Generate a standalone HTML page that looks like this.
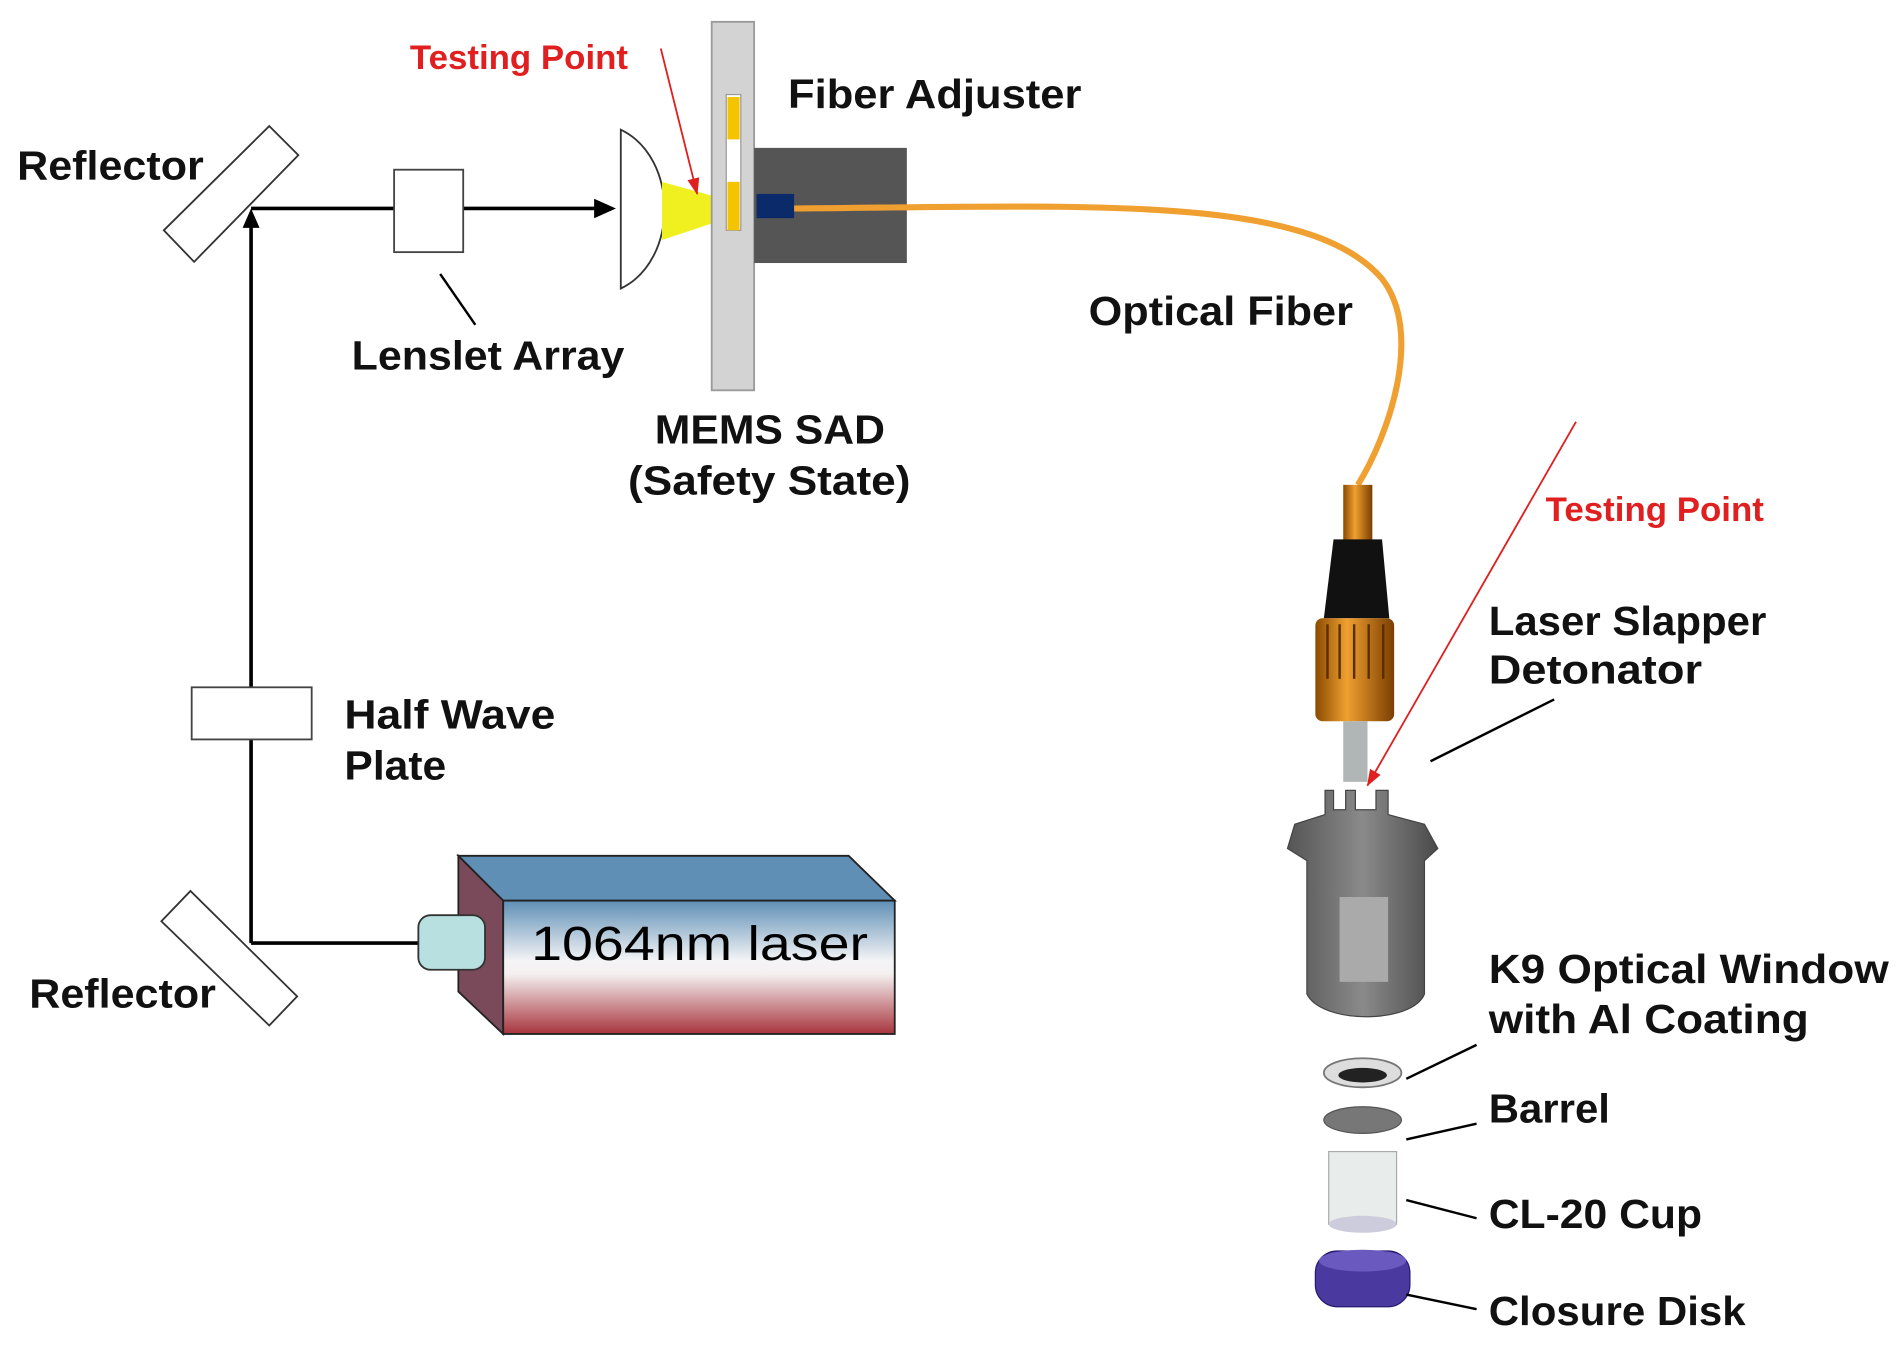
<!DOCTYPE html>
<html><head><meta charset="utf-8"><style>html,body{margin:0;padding:0;background:#fff}svg{display:block}text{font-family:"Liberation Sans",sans-serif;font-weight:bold}</style></head>
<body>
<svg width="1901" height="1354" viewBox="0 0 1568 1117" xmlns="http://www.w3.org/2000/svg">
<defs>
<linearGradient id="lg" x1="0" y1="0" x2="0" y2="1"><stop offset="0" stop-color="#5f8fb5"/><stop offset="0.45" stop-color="#f4f4f6"/><stop offset="0.55" stop-color="#f4f0f0"/><stop offset="1" stop-color="#a8343c"/></linearGradient>
<linearGradient id="gold" x1="0" y1="0" x2="1" y2="0"><stop offset="0" stop-color="#8a4a00"/><stop offset="0.4" stop-color="#f0a030"/><stop offset="1" stop-color="#7a3e00"/></linearGradient>
<linearGradient id="gray" x1="0" y1="0" x2="1" y2="0"><stop offset="0" stop-color="#555"/><stop offset="0.5" stop-color="#8a8a8a"/><stop offset="1" stop-color="#4a4a4a"/></linearGradient>
<marker id="ahr" markerWidth="14" markerHeight="14" refX="13" refY="7" orient="auto" markerUnits="userSpaceOnUse"><path d="M0,2 L14,7 L0,12z" fill="#e02020"/></marker>
</defs>
<polygon points="135,190 222,104 246,128 160,216" fill="#fff" stroke="#333" stroke-width="1.5"/>
<polygon points="133,760 157,735 245,822 222,846" fill="#fff" stroke="#333" stroke-width="1.5"/>
<line x1="207" y1="778" x2="207" y2="182" stroke="#000" stroke-width="3"/>
<path d="M200,188 L207,172 L214,188z"/>
<line x1="207" y1="172" x2="495" y2="172" stroke="#000" stroke-width="3"/>
<path d="M490,164 L508,172 L490,180z"/>
<line x1="207" y1="778" x2="348" y2="778" stroke="#000" stroke-width="3"/>
<rect x="325" y="140" width="57" height="68" fill="#fff" stroke="#444" stroke-width="1.5"/>
<line x1="363" y1="226" x2="392" y2="268" stroke="#000" stroke-width="2"/>
<path d="M512,107 C560,130 560,215 512,238 Z" fill="#fff" stroke="#333" stroke-width="1.5"/>
<polygon points="546,150 600,165 600,180 546,198" fill="#f0f020"/>
<rect x="587" y="18" width="35" height="304" fill="#d3d3d3" stroke="#999" stroke-width="1.5"/>
<rect x="599" y="78" width="12" height="112" fill="#fff" stroke="#999"/>
<rect x="600" y="80" width="10" height="35" fill="#f5c400"/>
<rect x="600" y="150" width="10" height="40" fill="#f5c400"/>
<rect x="622" y="122" width="126" height="95" fill="#555"/>
<rect x="624" y="160" width="31" height="20" fill="#0a2a6a"/>
<path d="M655,172 C900,170 1080,160 1140,230 C1175,275 1145,360 1120,400" fill="none" stroke="#f0a030" stroke-width="5"/>
<rect x="1108" y="400" width="24" height="48" fill="url(#gold)"/>
<path d="M1100,445 L1140,445 L1146,510 L1092,510Z" fill="#111"/>
<rect x="1085" y="510" width="65" height="85" rx="6" fill="url(#gold)"/>
<g stroke="#5a2e00" stroke-width="2"><line x1="1095" y1="515" x2="1095" y2="560"/><line x1="1105" y1="515" x2="1105" y2="560"/><line x1="1117" y1="515" x2="1117" y2="560"/><line x1="1129" y1="515" x2="1129" y2="560"/><line x1="1141" y1="515" x2="1141" y2="560"/></g>
<rect x="1108" y="595" width="20" height="50" fill="#b0b5b5"/>
<path d="M1093,652 L1100,652 L1100,668 L1110,668 L1110,652 L1118,652 L1118,668 L1135,668 L1135,652 L1145,652 L1145,672 L1175,680 L1186,700 L1175,710 L1175,820 C1165,845 1090,845 1078,820 L1078,710 L1062,700 L1068,680 L1093,672Z" fill="url(#gray)" stroke="#444"/>
<rect x="1105" y="740" width="40" height="70" fill="#aaa"/>
<ellipse cx="1124" cy="885" rx="32" ry="12" fill="#ddd" stroke="#777" stroke-width="1.5"/>
<ellipse cx="1124" cy="887" rx="20" ry="6" fill="#222"/>
<ellipse cx="1124" cy="924" rx="32" ry="11" fill="#777" stroke="#555"/>
<rect x="1096" y="950" width="56" height="60" fill="#e8ecea" stroke="#aaa"/>
<ellipse cx="1124" cy="1010" rx="28" ry="7" fill="#ccd"/>
<rect x="1085" y="1032" width="78" height="46" rx="18" fill="#4a3aa0" stroke="#2a1a70"/>
<ellipse cx="1124" cy="1040" rx="36" ry="9" fill="#6a5ac0"/>
<g stroke="#000" stroke-width="2">
<line x1="1180" y1="628" x2="1282" y2="577"/>
<line x1="1160" y1="890" x2="1218" y2="862"/>
<line x1="1160" y1="940" x2="1218" y2="927"/>
<line x1="1160" y1="990" x2="1218" y2="1005"/>
<line x1="1160" y1="1068" x2="1218" y2="1080"/>
</g>
<line x1="545" y1="40" x2="575" y2="160" stroke="#e02020" stroke-width="1.5" marker-end="url(#ahr)"/>
<line x1="1300" y1="348" x2="1128" y2="648" stroke="#e02020" stroke-width="1.5" marker-end="url(#ahr)"/>
<rect x="158" y="567" width="99" height="43" fill="#fff" stroke="#444" stroke-width="1.5"/>
<polygon points="378,706 700,706 738,743 415,743" fill="#5f8fb5" stroke="#222" stroke-width="1.5"/>
<polygon points="378,706 415,743 415,853 378,818" fill="#7a4a5a" stroke="#222" stroke-width="1.5"/>
<rect x="415" y="743" width="323" height="110" fill="url(#lg)" stroke="#222" stroke-width="1.5"/>
<rect x="345" y="755" width="55" height="45" rx="10" fill="#b8e0e0" stroke="#333" stroke-width="1.5"/>
<text x="438" y="792" font-size="40" style="font-weight:normal" textLength="278" lengthAdjust="spacingAndGlyphs">1064nm laser</text>
<g font-size="34" fill="#111">
<text x="14" y="148" textLength="154" lengthAdjust="spacingAndGlyphs">Reflector</text>
<text x="24" y="831" textLength="154" lengthAdjust="spacingAndGlyphs">Reflector</text>
<text x="290" y="305" textLength="225" lengthAdjust="spacingAndGlyphs">Lenslet Array</text>
<text x="650" y="89" textLength="242" lengthAdjust="spacingAndGlyphs">Fiber Adjuster</text>
<text x="898" y="268" textLength="218" lengthAdjust="spacingAndGlyphs">Optical Fiber</text>
<text x="540" y="366" textLength="190" lengthAdjust="spacingAndGlyphs">MEMS SAD</text>
<text x="518" y="408" textLength="233" lengthAdjust="spacingAndGlyphs">(Safety State)</text>
<text x="284" y="601" textLength="174" lengthAdjust="spacingAndGlyphs">Half Wave</text>
<text x="284" y="643" textLength="84" lengthAdjust="spacingAndGlyphs">Plate</text>
<text x="1228" y="524" textLength="229" lengthAdjust="spacingAndGlyphs">Laser Slapper</text>
<text x="1228" y="564" textLength="176" lengthAdjust="spacingAndGlyphs">Detonator</text>
<text x="1228" y="811" textLength="330" lengthAdjust="spacingAndGlyphs">K9 Optical Window</text>
<text x="1228" y="852" textLength="264" lengthAdjust="spacingAndGlyphs">with Al Coating</text>
<text x="1228" y="926" textLength="100" lengthAdjust="spacingAndGlyphs">Barrel</text>
<text x="1228" y="1013" textLength="176" lengthAdjust="spacingAndGlyphs">CL-20 Cup</text>
<text x="1228" y="1093" textLength="212" lengthAdjust="spacingAndGlyphs">Closure Disk</text>
</g>
<g font-size="28" fill="#e02020">
<text x="338" y="57" textLength="180" lengthAdjust="spacingAndGlyphs">Testing Point</text>
<text x="1275" y="430" textLength="180" lengthAdjust="spacingAndGlyphs">Testing Point</text>
</g>
</svg>
</body></html>
